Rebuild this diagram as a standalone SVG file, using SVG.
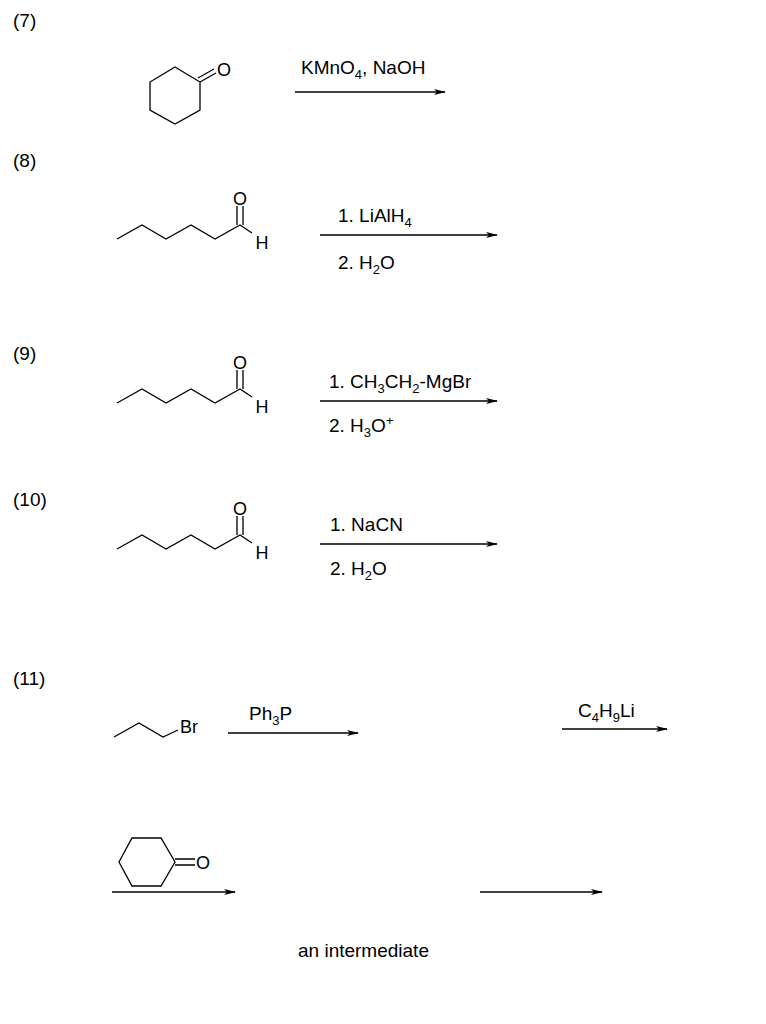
<svg xmlns="http://www.w3.org/2000/svg" width="766" height="1024" viewBox="0 0 766 1024">
<style>
text{font-family:"Liberation Sans",Arial,sans-serif;font-size:19px;fill:#000}
.at{font-size:18px}
.b{fill:none;stroke:#000;stroke-width:1.3}
.a{stroke:#000;stroke-width:1.3;marker-end:url(#ah)}
.s{font-size:13px}
</style>
<defs><marker id="ah" markerWidth="12" markerHeight="6" refX="11" refY="3" orient="auto" markerUnits="userSpaceOnUse"><path d="M0,0 L12,3 L0,6 L3,3z" fill="#000"/></marker></defs>
<rect width="766" height="1024" fill="#fff"/>
<text x="13" y="27">(7)</text>
<text x="13" y="167">(8)</text>
<text x="13" y="360">(9)</text>
<text x="13" y="506">(10)</text>
<text x="13" y="685">(11)</text>
<g id="m7">
<path class="b" d="M175,67 L200,82 L200,110 L175,124 L150,110 L150,82 Z"/>
<path class="b" d="M200,82 L216,73 M198,78 L214,69"/>
<text class="at" x="224" y="76" text-anchor="middle">O</text>
</g>
<g id="m8">
<path class="b" d="M117,239 L142,225 L166,239 L191,225 L215,239 L240,225 L252,233"/>
<path class="b" d="M237,225 L237,206 M243,225 L243,206"/>
<text class="at" x="240" y="205" text-anchor="middle">O</text>
<text class="at" x="262" y="249" text-anchor="middle">H</text>
</g>
<g id="m9" transform="translate(0,164)">
<path class="b" d="M117,239 L142,225 L166,239 L191,225 L215,239 L240,225 L252,233"/>
<path class="b" d="M237,225 L237,206 M243,225 L243,206"/>
<text class="at" x="240" y="205" text-anchor="middle">O</text>
<text class="at" x="262" y="249" text-anchor="middle">H</text>
</g>
<g id="m10" transform="translate(0,310)">
<path class="b" d="M117,239 L142,225 L166,239 L191,225 L215,239 L240,225 L252,233"/>
<path class="b" d="M237,225 L237,206 M243,225 L243,206"/>
<text class="at" x="240" y="205" text-anchor="middle">O</text>
<text class="at" x="262" y="249" text-anchor="middle">H</text>
</g>
<g id="m11a">
<path class="b" d="M114,737 L139,723 L163,737 L178,730"/>
<text class="at" x="180" y="733">Br</text>
</g>
<g id="m11b">
<path class="b" d="M119,862 L132,838 L161,838 L175,862 L161,886 L132,886 Z"/>
<path class="b" d="M175,859 L195,859 M175,865 L195,865"/>
<text class="at" x="203" y="869" text-anchor="middle">O</text>
</g>
<g id="connectors">
<line class="a" x1="295" y1="92" x2="445" y2="92"/>
<line class="a" x1="320" y1="235" x2="497" y2="235"/>
<line class="a" x1="320" y1="401" x2="497" y2="401"/>
<line class="a" x1="320" y1="544" x2="497" y2="544"/>
<line class="a" x1="228" y1="733" x2="358" y2="733"/>
<line class="a" x1="562" y1="729" x2="667" y2="729"/>
<line class="a" x1="112" y1="892" x2="235" y2="892"/>
<line class="a" x1="480" y1="892" x2="602" y2="892"/>
</g>
<text x="301" y="74">KMnO<tspan class="s" dy="5">4</tspan><tspan dy="-5">, NaOH</tspan></text>
<text x="338" y="222">1. LiAlH<tspan class="s" dy="5">4</tspan></text>
<text x="338" y="269">2. H<tspan class="s" dy="5">2</tspan><tspan dy="-5">O</tspan></text>
<text x="329" y="388">1. CH<tspan class="s" dy="5">3</tspan><tspan dy="-5">CH</tspan><tspan class="s" dy="5">2</tspan><tspan dy="-5">-MgBr</tspan></text>
<text x="329" y="432">2. H<tspan class="s" dy="5">3</tspan><tspan dy="-5">O</tspan><tspan class="s" dy="-7">+</tspan></text>
<text x="330" y="531">1. NaCN</text>
<text x="330" y="575">2. H<tspan class="s" dy="5">2</tspan><tspan dy="-5">O</tspan></text>
<text x="249" y="720">Ph<tspan class="s" dy="5">3</tspan><tspan dy="-5">P</tspan></text>
<text x="578" y="717">C<tspan class="s" dy="5">4</tspan><tspan dy="-5">H</tspan><tspan class="s" dy="5">9</tspan><tspan dy="-5">Li</tspan></text>
<text x="298" y="957">an intermediate</text>
</svg>
